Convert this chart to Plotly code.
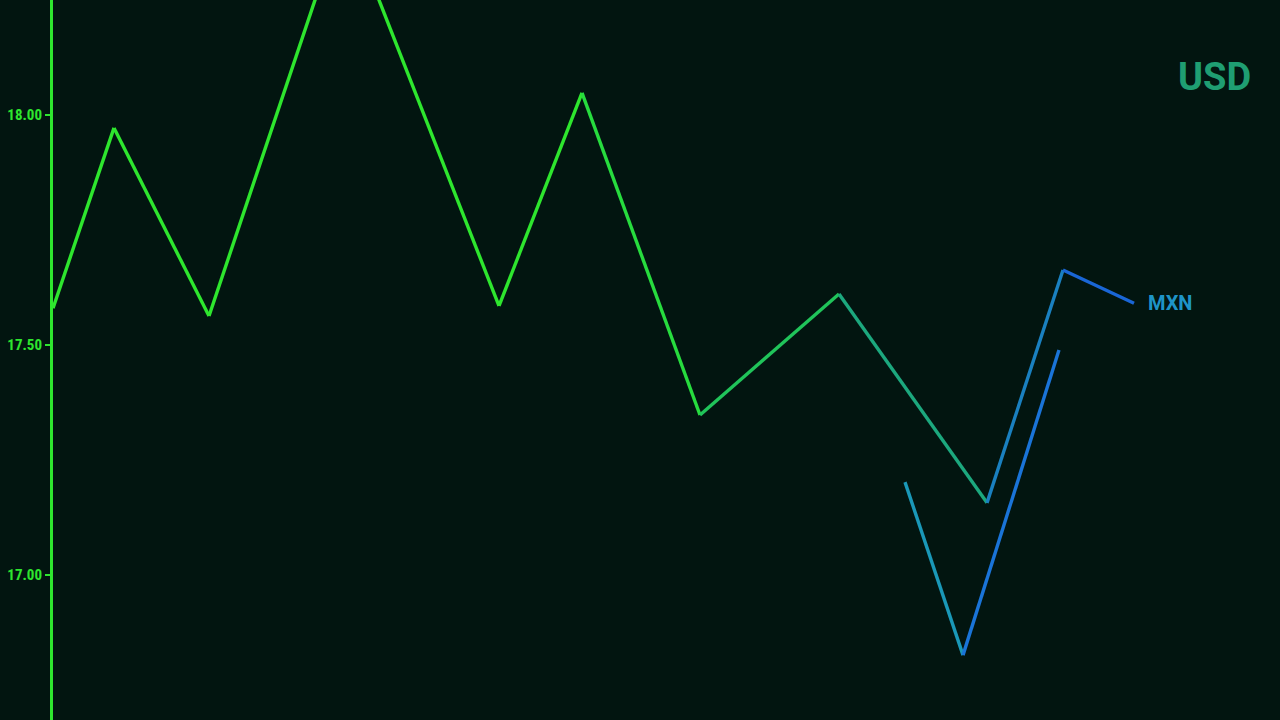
import plotly.graph_objects as go

# ---- data ----
main_x = [0, 6.1, 15.6, 29.15, 44.6, 52.9, 64.7, 78.6, 93.4, 101.0, 108.1]
main_y = [17.580, 17.972, 17.563, 18.441, 17.585, 18.048, 17.348, 17.611, 17.157, 17.663, 17.591]

second_x = [85.2, 91.0, 100.6]
second_y = [17.202, 16.826, 17.489]

tick_vals = [17.00, 17.50, 18.00]
tick_text = ["17.00", "17.50", "18.00"]

base_label = "USD"
quote_label = "MXN"

# ---- styling ----
BG = "#021510"
GREEN = "#2ee62e"

# colour for each segment of the main line (gradient green -> blue)
main_seg_colors = ["#2ee62e", "#2ee62e", "#2ee62e", "#2ee62e", "#2ee62e",
                   "#27dc3e", "#20c45a", "#1ca87e", "#1a80c0", "#1a66d6"]
second_seg_colors = ["#1a98b8", "#1a74d8"]

fig = go.Figure()

def add_segments(xs, ys, colors):
    for i in range(len(xs) - 1):
        fig.add_trace(go.Scatter(
            x=[xs[i], xs[i + 1]], y=[ys[i], ys[i + 1]],
            mode="lines",
            line=dict(color=colors[i], width=3.4),
            hoverinfo="skip", showlegend=False,
        ))

add_segments(main_x, main_y, main_seg_colors)
add_segments(second_x, second_y, second_seg_colors)

fig.add_annotation(x=main_x[-1], y=main_y[-1], xref="x", yref="y",
                   text=quote_label, showarrow=False, xanchor="left", xshift=12,
                   font=dict(family="Roboto", size=20, color="#1e94c8", weight="bold"))
fig.add_annotation(x=0.978, y=0.893, xref="paper", yref="paper",
                   text=base_label, showarrow=False, xanchor="right", yanchor="middle",
                   font=dict(family="Roboto", size=38, color="#1f9e72", weight="bold"))

fig.update_layout(
    width=1280, height=720,
    margin=dict(l=53, r=0, t=0, b=0),
    paper_bgcolor=BG, plot_bgcolor=BG,
    showlegend=False,
    xaxis=dict(range=[0, 122.7], visible=False, showgrid=False, zeroline=False),
    yaxis=dict(range=[16.685, 18.25], showgrid=False, zeroline=False,
               showline=True, linecolor=GREEN, linewidth=3,
               tickvals=tick_vals, ticktext=tick_text,
               ticks="outside", ticklen=5, tickwidth=2, tickcolor=GREEN,
               tickfont=dict(family="Roboto Condensed, Roboto", size=15, color=GREEN, weight="bold")),
)

fig.write_html("out.html",
               config={"displayModeBar": False},
               post_script="document.body.style.margin='0';document.body.style.background='#021510';")
